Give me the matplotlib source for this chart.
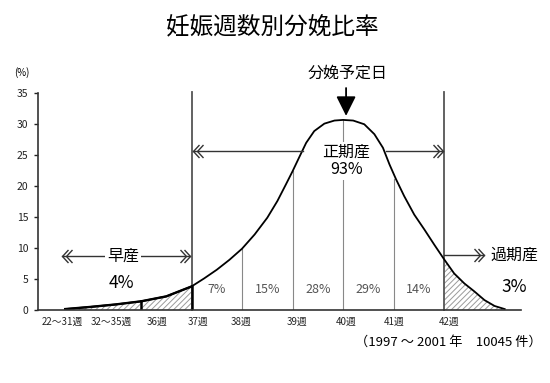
import numpy as np
import matplotlib
matplotlib.use("Agg")
import matplotlib.pyplot as plt
from matplotlib.path import Path

plt.rcParams['font.family'] = ['Noto Sans CJK JP', 'DejaVu Sans']
plt.rcParams['hatch.linewidth'] = 0.7

# curve (week position, % of births)
weeks = [34.5, 35.0, 35.5, 36.0, 36.5, 37.0, 37.25, 37.5, 37.75, 38.0, 38.25, 38.5,
         38.7, 38.87, 39.0, 39.14, 39.27, 39.43, 39.63, 39.83, 40.0, 40.2, 40.42,
         40.62, 40.79, 40.92, 41.05, 41.21, 41.41, 41.61, 41.81, 42.0, 42.2, 42.4,
         42.6, 42.8, 43.0, 43.2]
rate = [0.15, 0.5, 0.9, 1.4, 2.2, 3.8, 5.1, 6.5, 8.1, 9.9, 12.2, 14.9,
        17.6, 20.3, 22.4, 24.8, 27.0, 28.9, 30.1, 30.6, 30.7, 30.6, 30.0,
        28.4, 26.2, 23.5, 21.1, 18.4, 15.4, 13.0, 10.5, 8.2, 5.9, 4.3,
        3.0, 1.6, 0.65, 0.15]

week_lines = [38, 39, 40, 41]
share_pos = [37.5, 38.5, 39.5, 40.5, 41.5]
share_labels = ['7%', '15%', '28%', '29%', '14%']

tick_pos = [34.45, 35.42, 36.31, 37.12, 37.99, 39.08, 40.06, 41.01, 42.1]
tick_labels = ['22～31週', '32～35週', '36週', '37週', '38週', '39週', '40週', '41週', '42週']

weeks = np.array(weeks)
rate = np.array(rate)


def at(w):
    return rate[np.argmin(np.abs(weeks - w))]


# double chevron marker, tip at origin
def chevron(d):
    v = [(6, 6.5), (0, 0), (6, -6.5), (10, 6.5), (4, 0), (10, -6.5)]
    v = [(d * x, y) for x, y in v]
    c = [Path.MOVETO, Path.LINETO, Path.LINETO] * 2
    return Path(v, c)


fig = plt.figure(figsize=(5.5, 3.83), dpi=100)
ax = fig.add_axes([0.069, 0.1906, 0.878, 0.5658])
ax.set_xlim(33.96, 43.52)
ax.set_ylim(0, 35)

# hatched pre-term and post-term areas
m1 = weeks <= 37
m2 = weeks >= 42
ax.fill_between(weeks[m1], rate[m1], 0, facecolor='none', edgecolor='#9a9a9a',
                hatch='//////', linewidth=0)
ax.fill_between(weeks[m2], rate[m2], 0, facecolor='none', edgecolor='#9a9a9a',
                hatch='//////', linewidth=0)

# boundary lines 37 / 42
for w in (37, 42):
    ax.plot([w, w], [0, 35.2], color='#555555', lw=1.3, clip_on=False)
for w in (36, 37):
    ax.plot([w, w], [0, at(w)], color='black', lw=1.8)
for w in week_lines:
    ax.plot([w, w], [0, at(w)], color='#888888', lw=0.8)

ax.plot(weeks, rate, color='black', lw=1.3)
ax.plot(weeks[m1], rate[m1], color='black', lw=1.7)

for x, s in zip(share_pos, share_labels):
    ax.text(x, 3.3, s, ha='center', va='center', fontsize=9, color='#555555')

# expected date arrow
ax.text(40.1, 38.2, '分娩予定日', ha='center', va='center', fontsize=11.5, clip_on=False)
ax.annotate('', xy=(40.06, 30.9), xytext=(40.06, 36.3),
            arrowprops=dict(arrowstyle='-|>,head_length=1.0,head_width=0.5',
                            mutation_scale=12, color='black', lw=1.3),
            annotation_clip=False)

# term birth
ax.text(40.06, 24.1, '正期産\n93%', ha='center', va='center', fontsize=11.5,
        linespacing=1.05, bbox=dict(facecolor='white', edgecolor='none', pad=1.0))
ax.plot([37.03, 39.2], [25.6, 25.6], color='#333333', lw=1.0)
ax.plot([40.85, 41.97], [25.6, 25.6], color='#333333', lw=1.0)
ax.plot([37.03], [25.6], marker=chevron(1), markersize=14.4, mfc='none',
        mec='#333333', mew=1.0, ls='none')
ax.plot([41.97], [25.6], marker=chevron(-1), markersize=14.4, mfc='none',
        mec='#333333', mew=1.0, ls='none')

# pre-term
ax.plot([34.43, 36.97], [8.65, 8.65], color='#333333', lw=1.0)
ax.plot([34.43], [8.65], marker=chevron(1), markersize=14.4, mfc='none',
        mec='#333333', mew=1.0, ls='none')
ax.plot([36.97], [8.65], marker=chevron(-1), markersize=14.4, mfc='none',
        mec='#333333', mew=1.0, ls='none')
ax.text(35.65, 8.65, '早産', ha='center', va='center', fontsize=11.5,
        bbox=dict(facecolor='white', edgecolor='none', pad=1.5))
ax.text(35.62, 4.4, '4%', ha='center', va='center', fontsize=12.5)

# post-term
ax.plot([42, 42.8], [8.9, 8.9], color='#333333', lw=1.0)
ax.plot([42.8], [8.9], marker=chevron(-1), markersize=14.4, mfc='none',
        mec='#333333', mew=1.0, ls='none')
ax.text(43.39, 8.9, '過期産', ha='center', va='center', fontsize=11.5, clip_on=False)
ax.text(43.39, 3.7, '3%', ha='center', va='center', fontsize=12.5, clip_on=False)

# axes styling
for s in ('top', 'right'):
    ax.spines[s].set_visible(False)
ax.spines['left'].set_color('#333333')
ax.spines['bottom'].set_color('#333333')
ax.spines['left'].set_linewidth(1.2)
ax.spines['bottom'].set_linewidth(1.2)
ax.set_yticks(range(0, 36, 5))
ax.tick_params(axis='y', length=3, width=1, labelsize=7.5, pad=4, colors='#222222')
ax.set_xticks(tick_pos, tick_labels)
ax.tick_params(axis='x', length=0, labelsize=7, pad=5, colors='#222222')
ax.text(33.64, 38.4, '(%)', ha='center', va='center', fontsize=7, clip_on=False)

fig.text(0.496, 0.927, '妊娠週数別分娩比率', ha='center', va='center', fontsize=17)
fig.text(0.985, 0.107, '（1997 ～ 2001 年　10045 件）', ha='right', va='center', fontsize=9.5)

fig.savefig('out.png', dpi=100, facecolor='white')
